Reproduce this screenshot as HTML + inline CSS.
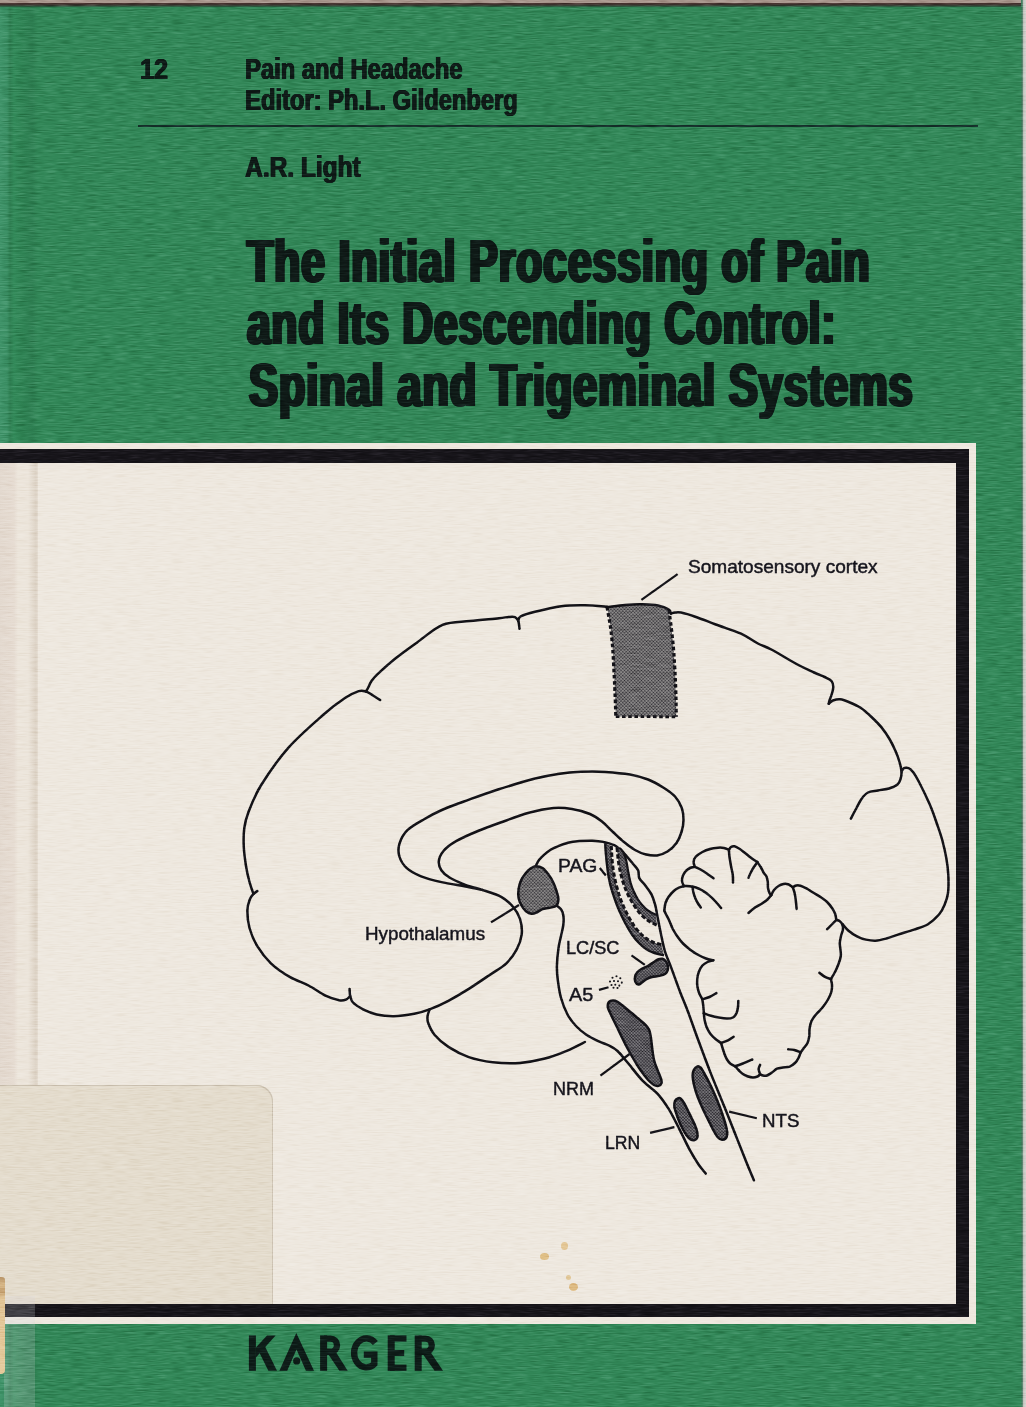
<!DOCTYPE html>
<html>
<head>
<meta charset="utf-8">
<title>The Initial Processing of Pain and Its Descending Control</title>
<style>
html,body{margin:0;padding:0;}
body{width:1026px;height:1407px;overflow:hidden;position:relative;background:#328758;font-family:"Liberation Sans",sans-serif;color:#0f1a17;}
.abs{position:absolute;}
#cover{left:0;top:0;width:1026px;height:1407px;background:#328758;overflow:hidden;}
#topstrip{left:0;top:0;width:1026px;height:3px;background:#a9968d;}
#topshadow{left:0;top:3px;width:1026px;height:4px;background:linear-gradient(#4d3230 0,#3b3530 50%,#2b6a48 100%);}
#rightedge{left:1021px;top:0;width:5px;height:1407px;background:linear-gradient(90deg,#2f7552 0,#5d8871 1.5px,#c9c6c2 2.6px,#d6d3cf 5px);}
#spineg{left:0;top:5px;width:40px;height:1402px;background:linear-gradient(90deg,#40946a 0,#3b8f64 7px,#2f8053 10px,#338a5a 14px,#2f8354 22px,#2e7f52 32px,#328758 38px);}
#panel{left:-4px;top:443px;width:980px;height:881px;background:#eee8df;}
#pborder{left:-20px;top:449px;width:963px;height:841px;border:13px solid #17151a;border-top-width:14px;box-sizing:content-box;background:transparent;}
#spinep{left:0;top:463px;width:38px;height:842px;background:linear-gradient(90deg,#e3d9cf 0,#e6dcd2 14px,#ece5db 18px,#ece5db 28px,#ddd3c6 36px,#eee8df 40px);}
#sticker{left:-10px;top:1085px;width:283px;height:220px;background:#e4dccd;border-radius:0 16px 0 0;box-shadow:inset -1px 1px 0 rgba(150,138,115,0.28);}
.hd{font-weight:bold;white-space:nowrap;transform-origin:0 0;line-height:1;text-shadow:0.5px 0 0 #0f1a17,-0.5px 0 0 #0f1a17,1px 0 0 #0f1a17;}
#n12{left:140px;top:54px;font-size:30px;transform:scaleX(0.83);}
#h1{left:245px;top:54px;font-size:30px;transform:scaleX(0.79);}
#h2{left:245px;top:85px;font-size:30px;transform:scaleX(0.79);}
#rule{left:138px;top:125px;width:840px;height:2px;background:#15302a;}
#auth{left:245px;top:152px;font-size:30px;transform:scaleX(0.815);}
.tt{font-size:62px;letter-spacing:1.2px;text-shadow:1px 0 0 #0f1a17,-1px 0 0 #0f1a17,2px 0 0 #0f1a17,-2px 0 0 #0f1a17,2.4px 0 0 #0f1a17,-2.4px 0 0 #0f1a17;}
#t1{left:247px;top:230px;transform:scaleX(0.692);}
#t2{left:247px;top:292px;transform:scaleX(0.686);}
#t3{left:248.5px;top:354px;transform:scaleX(0.701);}
.lb{font-size:18.5px;white-space:nowrap;line-height:1;color:#15141c;transform-origin:0 0;-webkit-text-stroke:0.45px #15141c;}
</style>
</head>
<body>
<div id="cover" class="abs">
<div id="spineg" class="abs"></div>
<div id="topstrip" class="abs"></div>
<div id="topshadow" class="abs"></div>
<div id="rightedge" class="abs"></div>

<div id="n12" class="abs hd">12</div>
<div id="h1" class="abs hd">Pain and Headache</div>
<div id="h2" class="abs hd">Editor: Ph.L. Gildenberg</div>
<div id="rule" class="abs"></div>
<div id="auth" class="abs hd">A.R. Light</div>
<div id="t1" class="abs hd tt">The Initial Processing of Pain</div>
<div id="t2" class="abs hd tt">and Its Descending Control:</div>
<div id="t3" class="abs hd tt">Spinal and Trigeminal Systems</div>

<div id="panel" class="abs"></div>
<div id="spinep" class="abs"></div>
<div id="sticker" class="abs"></div>
<div id="pborder" class="abs"></div>

<!--SVG-->
<svg id="art" class="abs" style="left:0;top:0" width="1026" height="1407" viewBox="0 0 1026 1407">
<defs><pattern id="ht" width="2.4" height="2.4" patternUnits="userSpaceOnUse" patternTransform="rotate(45)"><rect width="2.4" height="2.4" fill="#949290"/><circle cx="1.2" cy="1.2" r="0.9" fill="#2b2930"/></pattern><pattern id="htd" width="2.2" height="2.2" patternUnits="userSpaceOnUse" patternTransform="rotate(45)"><rect width="2.2" height="2.2" fill="#908e90"/><circle cx="1.1" cy="1.1" r="0.88" fill="#24222a"/></pattern></defs>
<g fill="none" stroke="#131217" stroke-width="2.5" stroke-linecap="round" stroke-linejoin="round">
<path d="M607.0 607.0C610.0 606.7 619.2 605.5 625.0 605.0C630.8 604.5 636.5 604.2 642.0 604.3C647.5 604.4 653.5 604.5 658.0 605.5C662.5 606.5 667.2 609.2 669.0 610.0L669.0 610.0C669.2 611.3 669.5 614.5 670.0 618.0C670.5 621.5 671.1 625.7 671.7 631.0C672.3 636.3 673.0 642.5 673.6 650.0C674.2 657.5 674.8 668.0 675.2 676.0C675.6 684.0 675.8 691.2 676.0 698.0C676.2 704.8 676.2 713.7 676.3 716.8L615.8 716.6L615.8 716.6C615.7 713.5 615.5 704.8 615.2 698.0C614.9 691.2 614.6 684.0 614.2 676.0C613.8 668.0 613.3 657.5 612.8 650.0C612.3 642.5 611.6 636.3 611.0 631.0C610.4 625.7 609.7 622.0 609.0 618.0C608.3 614.0 607.3 608.8 607.0 607.0Z" fill="url(#ht)" stroke="none"/>
<path d="M607.0 607.0C607.3 608.8 608.3 614.0 609.0 618.0C609.7 622.0 610.4 625.7 611.0 631.0C611.6 636.3 612.3 642.5 612.8 650.0C613.3 657.5 613.8 668.0 614.2 676.0C614.6 684.0 614.9 691.2 615.2 698.0C615.5 704.8 615.7 713.5 615.8 716.6" stroke-width="3.2" stroke-dasharray="3.6 2.6" stroke-linecap="butt"/>
<path d="M669.0 610.0C669.2 611.3 669.5 614.5 670.0 618.0C670.5 621.5 671.1 625.7 671.7 631.0C672.3 636.3 673.0 642.5 673.6 650.0C674.2 657.5 674.8 668.0 675.2 676.0C675.6 684.0 675.8 691.2 676.0 698.0C676.2 704.8 676.2 713.7 676.3 716.8" stroke-width="3.2" stroke-dasharray="3.6 2.6" stroke-linecap="butt"/>
<path d="M615.8 716.6L676.3 716.8" stroke-width="2.8" stroke-dasharray="3.6 2.6" stroke-linecap="butt"/>
<path d="M482.5 889.9C482.5 890.2 472.2 887.8 465.4 886.5C458.6 885.2 448.9 883.8 441.5 882.1C434.1 880.4 426.9 878.7 421.1 876.3C415.3 873.9 410.1 871.1 406.5 867.8C402.9 864.5 400.6 860.5 399.4 856.5C398.2 852.5 398.1 848.3 399.4 843.9C400.7 839.5 403.2 834.4 407.4 830.2C411.6 826.1 418.6 822.5 424.5 819.0C430.4 815.5 436.4 812.4 443.0 809.5C449.6 806.6 454.7 804.8 463.9 801.5C473.1 798.2 486.3 793.3 498.0 789.5C509.7 785.7 524.1 781.4 534.1 778.8C544.1 776.2 550.2 775.2 558.0 774.0C565.8 772.8 573.1 772.1 580.9 771.8C588.7 771.4 596.8 771.4 605.0 771.9C613.2 772.4 622.8 773.2 630.0 774.5C637.2 775.8 642.5 777.3 648.0 779.5C653.5 781.7 658.7 784.7 663.2 787.5C667.7 790.3 671.9 793.1 675.0 796.5C678.1 799.9 680.4 804.1 681.8 808.0C683.2 811.9 683.5 816.0 683.5 820.0C683.5 824.0 682.7 828.2 681.5 832.0C680.3 835.8 678.8 839.8 676.5 843.0C674.2 846.2 670.8 849.4 667.5 851.5C664.2 853.6 660.6 854.9 657.0 855.4C653.4 855.9 649.7 855.4 646.0 854.5C642.3 853.6 638.7 852.1 635.0 850.0C631.3 847.9 627.7 845.0 624.0 842.0C620.3 839.0 616.7 835.4 613.0 832.0C609.3 828.6 605.8 824.5 602.0 821.5C598.2 818.5 595.0 816.1 590.0 814.0C585.0 811.9 578.1 810.0 572.0 809.0C565.9 808.0 560.9 807.3 553.6 808.0C546.3 808.7 536.5 810.7 528.0 813.0C519.5 815.3 511.2 818.7 502.9 821.7C494.6 824.7 485.8 827.8 478.0 831.0C470.2 834.2 461.9 837.9 456.1 841.2C450.4 844.5 446.4 847.6 443.5 851.0C440.6 854.4 439.1 858.2 438.8 861.5C438.5 864.8 439.7 867.8 441.5 870.5C443.3 873.2 445.5 875.1 449.5 877.5C453.5 879.9 459.9 882.7 465.4 884.8C470.9 886.9 482.5 889.6 482.5 889.9Z"/>
<path d="M482.5 889.9C485.6 891.0 496.1 893.9 501.2 896.8C506.3 899.6 510.1 903.3 513.2 907.0C516.3 910.7 518.6 914.4 520.0 918.9C521.4 923.4 522.3 929.2 521.7 934.3C521.1 939.4 519.2 944.8 516.6 949.6C514.0 954.4 510.9 959.0 506.4 963.3C501.8 967.6 495.6 970.9 489.3 975.2C483.0 979.5 475.6 984.6 468.8 988.9C462.0 993.2 454.9 997.4 448.4 1000.8C441.9 1004.2 435.3 1007.2 429.6 1009.4C423.9 1011.6 420.2 1012.7 414.2 1013.8C408.2 1014.9 400.1 1016.1 393.8 1016.2C387.6 1016.3 381.8 1015.6 376.7 1014.5C371.6 1013.4 367.1 1011.4 363.1 1009.4C359.2 1007.4 355.1 1004.7 353.0 1002.5C350.9 1000.3 350.8 998.2 350.2 996.0C349.6 993.8 349.7 990.2 349.6 989.0"/>
<path d="M350.2 996.0C349.5 996.6 347.8 998.9 346.0 999.6C344.2 1000.3 342.6 1000.9 339.2 1000.3C335.8 999.6 330.6 998.2 325.5 995.7C320.4 993.2 314.5 988.6 308.5 985.5C302.5 982.4 296.0 980.6 289.7 976.9C283.4 973.2 276.3 968.4 270.9 963.3C265.5 958.2 260.9 952.1 257.3 946.2C253.7 940.3 251.2 934.0 249.5 928.0C247.8 922.0 247.3 914.8 247.4 910.0C247.5 905.2 249.0 901.7 250.0 899.0C251.0 896.3 252.3 895.3 253.5 894.0C254.7 892.7 256.7 891.5 257.3 891.0"/>
<path d="M253.5 894.0C252.8 892.0 250.8 886.7 249.5 882.0C248.2 877.3 246.9 871.8 246.0 866.0C245.1 860.2 244.1 853.6 243.8 847.3C243.5 841.0 243.5 833.9 244.3 828.0C245.1 822.1 245.7 819.2 248.5 812.0C251.3 804.8 254.5 795.7 261.2 785.0C267.9 774.3 278.1 759.4 288.5 747.6C298.9 735.9 314.2 722.8 323.6 714.5C333.0 706.2 339.1 701.9 345.0 698.0C350.9 694.1 355.2 692.2 358.7 691.1C362.2 690.0 363.6 690.8 366.0 691.5C368.4 692.2 370.6 694.1 373.0 695.5C375.4 696.9 378.9 699.2 380.1 700.0"/>
<path d="M366.0 691.5C366.4 690.8 367.6 688.8 368.5 687.0C369.4 685.2 369.9 683.2 371.5 681.0C373.1 678.8 374.0 677.4 378.1 673.6C382.2 669.8 389.5 663.2 396.0 658.0C402.5 652.8 409.4 647.9 417.1 642.4C424.9 636.9 433.7 628.4 442.5 624.8C451.3 621.2 460.6 622.1 470.0 621.0C479.4 619.9 492.5 618.9 499.0 618.2C505.5 617.5 506.1 617.2 508.8 617.0C511.5 616.8 513.4 616.5 515.0 617.2C516.6 617.9 517.5 619.1 518.3 621.0C519.0 622.9 519.3 627.4 519.5 628.7"/>
<path d="M518.3 621.0C518.7 620.2 517.9 618.0 520.5 616.5C523.1 615.0 527.2 613.7 534.0 612.0C540.8 610.3 552.9 607.3 561.4 606.2C569.9 605.1 577.4 605.2 585.0 605.3C592.6 605.4 603.3 606.5 607.0 606.8"/>
<path d="M607.0 607.0C610.0 606.7 619.2 605.5 625.0 605.0C630.8 604.5 636.5 604.2 642.0 604.3C647.5 604.4 653.5 604.6 658.0 605.5C662.5 606.4 666.6 608.1 668.8 609.5C671.0 610.9 670.6 612.9 671.0 613.6"/>
<path d="M671.0 613.6C671.7 613.4 673.3 612.8 675.0 612.6C676.7 612.4 677.5 611.9 681.0 612.6C684.5 613.3 690.2 615.0 696.0 617.0C701.8 619.0 708.3 621.7 715.8 624.5C723.3 627.3 734.0 630.5 741.0 633.7C748.0 636.9 752.9 640.9 757.9 643.5C762.9 646.1 764.9 646.1 771.3 649.5C777.7 652.9 789.4 660.2 796.5 664.0C803.6 667.8 809.3 670.3 814.0 672.5C818.7 674.7 821.7 675.6 824.6 677.0C827.5 678.4 830.0 679.3 831.5 681.0C833.0 682.7 833.2 684.8 833.3 687.0C833.3 689.2 832.5 691.7 831.8 694.0C831.1 696.3 829.8 699.4 829.3 701.0C828.8 702.6 828.9 703.3 828.8 703.8"/>
<path d="M828.8 703.8C829.5 703.2 831.1 701.2 833.0 700.5C834.9 699.8 837.2 699.0 840.0 699.3C842.8 699.6 846.5 701.0 850.0 702.5C853.5 704.0 857.3 705.5 861.0 708.0C864.7 710.5 868.6 714.3 872.0 717.5C875.4 720.7 878.6 723.8 881.5 727.4C884.4 731.0 887.2 735.1 889.5 739.0C891.8 742.9 893.8 747.2 895.5 751.0C897.2 754.8 898.5 758.6 899.5 762.0C900.5 765.4 901.3 768.7 901.5 771.5C901.7 774.3 901.2 776.8 900.5 779.0C899.8 781.2 899.4 782.9 897.5 784.5C895.6 786.1 892.2 787.5 889.0 788.5C885.8 789.5 881.5 789.8 878.0 790.5C874.5 791.2 870.8 791.1 868.0 792.5C865.2 793.9 863.4 796.4 861.5 799.0C859.6 801.6 858.3 804.7 856.5 808.0C854.7 811.3 851.8 816.8 850.9 818.6"/>
<path d="M901.5 771.5C901.9 771.0 902.8 768.8 904.0 768.2C905.2 767.7 907.0 767.6 908.5 768.2C910.0 768.8 911.2 769.7 913.0 772.0C914.8 774.3 916.2 776.6 919.0 782.0C921.8 787.4 926.8 797.6 929.8 804.6C932.8 811.6 934.9 817.9 937.0 824.0C939.1 830.1 941.0 835.3 942.5 841.0C944.0 846.7 945.3 852.3 946.3 858.0C947.3 863.7 948.0 869.2 948.3 875.0C948.6 880.8 948.6 888.0 948.0 893.0C947.4 898.0 946.0 901.4 944.5 905.0C943.0 908.6 941.8 911.3 939.0 914.5C936.2 917.7 932.2 921.7 928.0 924.2C923.8 926.7 919.0 927.9 914.0 929.6C909.0 931.3 902.6 933.1 898.0 934.6C893.4 936.1 890.1 937.5 886.4 938.5C882.6 939.5 878.9 940.5 875.5 940.7C872.1 940.9 869.1 940.3 866.0 939.6C862.9 938.9 859.9 937.8 857.0 936.3C854.1 934.8 850.9 932.7 848.5 930.7C846.1 928.7 843.6 925.3 842.6 924.2"/>
<path d="M535.6 866.2C536.2 865.2 537.5 861.9 539.0 860.0C540.5 858.1 542.3 856.4 544.3 854.6C546.3 852.9 548.6 851.0 551.0 849.5C553.4 848.0 556.1 846.9 558.9 845.8C561.7 844.7 564.6 843.6 568.0 842.8C571.4 842.0 575.4 841.5 579.4 841.1C583.4 840.8 588.0 840.6 592.0 840.7C596.0 840.8 599.8 841.1 603.5 841.9C607.2 842.6 611.5 844.0 614.3 845.2C617.0 846.5 618.2 847.9 620.0 849.4C621.8 850.9 622.6 851.6 624.8 854.1C627.0 856.6 631.2 861.5 633.4 864.2C635.6 866.9 637.2 868.2 638.2 870.5C639.2 872.8 638.1 875.6 639.3 878.1C640.5 880.6 643.5 883.0 645.5 885.8C647.5 888.5 650.0 891.4 651.6 894.6C653.2 897.8 654.2 901.2 655.2 904.8C656.2 908.4 656.4 911.1 657.4 916.2C658.4 921.3 659.9 929.3 661.2 935.2C662.5 941.1 663.3 946.1 665.0 951.6C666.7 957.1 668.9 961.3 671.4 968.1C673.9 974.9 677.4 984.9 680.2 992.2C683.0 999.5 685.1 1004.0 688.1 1012.0C691.1 1020.0 694.7 1030.6 698.4 1040.5C702.1 1050.4 705.7 1060.4 710.1 1071.6C714.5 1082.8 720.3 1096.6 724.7 1107.5C729.1 1118.4 732.8 1127.8 736.4 1137.0C740.0 1146.2 743.7 1155.6 746.6 1162.8C749.5 1170.0 752.7 1177.4 753.9 1180.3"/>
<path d="M556.5 905.5C557.3 906.2 560.1 907.8 561.2 909.5C562.4 911.2 563.0 913.4 563.4 916.0C563.8 918.6 563.7 921.7 563.3 925.0C562.9 928.3 561.8 932.2 561.0 936.0C560.2 939.8 559.2 943.0 558.5 948.0C557.8 953.0 557.0 960.9 556.9 966.2C556.8 971.5 557.1 974.8 557.8 980.0C558.5 985.2 559.3 991.8 560.9 997.5C562.5 1003.2 565.0 1009.8 567.5 1014.5C570.0 1019.2 572.9 1022.7 576.0 1026.0C579.1 1029.3 582.2 1031.9 586.0 1034.5C589.8 1037.1 595.1 1039.6 598.9 1041.4C602.7 1043.2 605.9 1043.9 609.0 1045.5C612.1 1047.1 614.3 1048.0 617.5 1051.0C620.7 1054.0 624.0 1058.3 628.2 1063.3C632.4 1068.3 637.9 1075.9 642.8 1080.9C647.7 1086.0 653.1 1089.0 657.4 1093.6C661.7 1098.2 664.8 1102.8 668.5 1108.7C672.2 1114.6 675.9 1122.3 679.4 1129.1C682.9 1135.9 686.4 1143.8 689.6 1149.6C692.8 1155.4 695.7 1160.2 698.4 1164.2C701.1 1168.2 704.5 1172.0 705.7 1173.6"/>
<path d="M429.6 1009.4C429.3 1010.5 427.8 1013.7 427.6 1016.0C427.4 1018.3 427.0 1019.8 428.2 1023.0C429.4 1026.2 431.3 1031.0 434.7 1035.0C438.1 1039.0 442.7 1043.2 448.4 1046.9C454.1 1050.6 461.4 1054.5 468.8 1057.1C476.2 1059.6 484.2 1061.2 492.7 1062.2C501.2 1063.2 511.5 1063.5 520.0 1062.9C528.5 1062.3 536.1 1060.8 543.9 1058.8C551.7 1056.8 560.0 1053.6 566.8 1050.8C573.6 1048.0 581.9 1043.5 584.9 1042.0"/>
<path d="M664.3 910.5C664.5 909.2 664.8 905.2 665.5 903.0C666.2 900.8 667.0 899.1 668.5 897.0C670.0 894.9 672.5 892.1 674.3 890.5C676.0 888.9 677.4 888.3 679.0 887.6C680.6 886.9 683.1 886.4 683.9 886.1"/>
<path d="M683.9 886.1C683.6 885.2 682.1 882.8 682.0 881.0C681.9 879.2 682.3 877.2 683.0 875.5C683.7 873.8 684.8 872.0 686.0 870.8C687.2 869.5 688.5 868.7 690.0 868.0C691.5 867.3 694.0 867.0 694.8 866.8"/>
<path d="M694.8 866.8C694.6 866.0 693.5 863.6 693.6 862.0C693.7 860.4 694.0 858.7 695.5 857.0C697.0 855.3 700.0 853.3 702.4 852.0C704.8 850.7 707.4 849.7 710.0 849.0C712.6 848.3 715.7 847.9 718.0 847.7C720.3 847.5 722.2 847.6 724.0 848.0C725.8 848.4 728.1 849.5 728.9 849.8"/>
<path d="M728.9 849.8C729.2 849.3 730.1 847.6 731.0 847.0C731.9 846.4 733.0 846.0 734.5 846.3C736.0 846.6 737.9 847.8 739.8 849.0C741.7 850.2 743.9 852.2 746.0 853.8C748.1 855.4 750.4 857.4 752.3 858.8C754.2 860.2 756.5 861.5 757.3 862.1"/>
<path d="M757.3 862.1C757.9 863.0 760.0 865.8 761.0 867.5C762.0 869.2 762.6 871.0 763.5 872.5C764.4 874.0 765.8 874.9 766.5 876.5C767.2 878.1 767.5 880.1 767.8 882.0C768.0 883.9 767.7 886.2 768.0 888.0C768.3 889.8 769.0 891.8 769.5 893.0C770.0 894.2 770.9 894.8 771.2 895.1"/>
<path d="M771.2 895.1C771.7 894.2 772.8 891.5 774.0 890.0C775.2 888.5 776.9 887.0 778.5 886.0C780.1 885.0 781.9 884.3 783.5 884.0C785.1 883.7 786.5 883.7 788.0 884.2C789.5 884.8 792.0 886.8 792.8 887.3"/>
<path d="M792.8 887.3C793.3 887.0 794.7 885.8 796.0 885.5C797.3 885.2 798.8 885.2 800.5 885.7C802.2 886.2 803.9 887.1 806.0 888.2C808.1 889.3 810.6 891.0 813.0 892.5C815.4 894.0 818.1 895.4 820.5 897.0C822.9 898.6 825.2 900.2 827.1 902.0C829.0 903.8 830.6 906.0 832.0 908.0C833.4 910.0 834.5 912.0 835.2 914.0C835.9 916.0 836.1 918.8 836.3 919.8"/>
<path d="M836.3 919.8C836.8 920.0 838.5 920.3 839.5 921.0C840.5 921.7 841.5 922.6 842.1 924.0C842.7 925.4 843.2 927.2 843.0 929.2C842.8 931.2 841.5 933.7 841.0 936.0C840.5 938.3 839.9 940.7 839.8 943.0C839.7 945.3 840.3 947.8 840.5 950.0C840.7 952.2 841.1 953.7 840.8 956.0C840.5 958.3 839.5 961.3 838.5 964.0C837.5 966.7 836.3 969.5 835.0 972.0C833.7 974.5 831.6 977.9 830.9 979.1"/>
<path d="M830.9 979.1C831.1 980.1 831.9 982.9 832.0 985.0C832.1 987.1 832.0 989.6 831.3 992.0C830.6 994.4 829.5 996.9 828.0 999.5C826.5 1002.1 824.5 1005.0 822.5 1007.5C820.5 1010.0 817.8 1012.2 816.0 1014.5C814.2 1016.8 812.6 1018.7 811.5 1021.0C810.4 1023.3 810.0 1026.0 809.6 1028.5C809.2 1031.0 809.6 1033.6 809.3 1036.0C808.9 1038.4 808.5 1040.9 807.5 1043.0C806.5 1045.1 804.6 1046.9 803.5 1048.5C802.4 1050.1 801.1 1051.8 800.6 1052.4"/>
<path d="M800.6 1052.4C800.2 1053.3 799.4 1056.2 798.5 1058.0C797.6 1059.8 796.5 1061.6 795.0 1063.0C793.5 1064.4 791.7 1065.8 789.7 1066.6C787.7 1067.3 785.1 1067.2 783.0 1067.5C780.9 1067.8 778.8 1067.9 777.0 1068.7C775.2 1069.5 773.7 1071.4 772.0 1072.5C770.3 1073.6 768.5 1075.0 767.0 1075.5C765.5 1076.0 764.1 1075.8 763.0 1075.6C761.9 1075.4 760.6 1074.4 760.1 1074.2"/>
<path d="M760.1 1074.2C759.7 1074.6 758.7 1076.0 757.5 1076.5C756.3 1077.0 754.7 1077.5 753.0 1077.5C751.3 1077.5 749.2 1076.9 747.5 1076.3C745.8 1075.7 744.0 1074.8 742.5 1073.7C741.0 1072.7 739.7 1071.2 738.5 1070.0C737.3 1068.8 735.7 1066.8 735.1 1066.2"/>
<path d="M735.1 1066.2C734.3 1065.8 731.9 1064.9 730.5 1063.8C729.1 1062.7 728.0 1061.1 727.0 1059.5C726.0 1057.9 725.2 1055.8 724.5 1054.0C723.8 1052.2 723.3 1050.3 722.7 1048.5C722.1 1046.7 721.4 1043.9 721.1 1043.0"/>
<path d="M721.1 1043.0C720.2 1042.3 717.3 1040.5 715.5 1039.0C713.7 1037.5 712.0 1035.9 710.5 1034.0C709.0 1032.1 707.8 1029.8 706.8 1027.5C705.8 1025.2 705.1 1022.4 704.6 1020.0C704.1 1017.6 704.0 1014.5 703.9 1013.4"/>
<path d="M703.9 1013.4C703.8 1012.2 703.5 1008.4 703.3 1006.0C703.0 1003.6 702.5 1000.4 702.4 999.3"/>
<path d="M702.4 999.3C701.9 998.3 700.1 995.5 699.3 993.5C698.5 991.5 697.9 989.3 697.5 987.0C697.1 984.7 697.0 982.0 697.2 979.5C697.4 977.0 697.9 974.3 698.8 972.0C699.7 969.7 700.9 967.2 702.4 965.5C703.9 963.8 705.7 962.9 707.5 962.0C709.3 961.1 712.3 960.5 713.3 960.2"/>
<path d="M713.3 960.2C712.1 959.9 708.6 959.5 706.0 958.5C703.4 957.5 700.2 956.0 697.5 954.5C694.8 953.0 692.3 951.2 689.9 949.4C687.5 947.6 685.1 945.6 683.0 943.5C680.9 941.4 679.1 938.9 677.4 936.5C675.7 934.1 674.2 931.7 672.8 929.0C671.4 926.3 670.4 923.1 669.2 920.5C668.0 917.9 666.4 915.2 665.6 913.5C664.8 911.8 664.5 911.0 664.3 910.5"/>
<path d="M683.9 886.1C684.9 886.1 688.0 886.0 690.0 886.2C692.0 886.4 693.8 886.7 696.0 887.5C698.2 888.3 700.8 889.4 703.0 890.8C705.2 892.1 707.4 893.8 709.5 895.6C711.6 897.4 713.6 899.4 715.5 901.5C717.4 903.6 720.2 906.9 721.1 908.0"/>
<path d="M692.5 886.7C692.6 887.6 692.8 890.0 693.3 892.0C693.8 894.0 694.6 896.6 695.4 898.5C696.2 900.4 697.1 902.0 698.0 903.5C698.9 905.0 700.3 906.8 700.8 907.5"/>
<path d="M694.8 866.8C695.8 867.2 698.5 868.4 700.5 869.5C702.5 870.6 704.3 871.8 706.5 873.3C708.7 874.8 712.3 877.5 713.5 878.3"/>
<path d="M728.9 849.8C729.0 851.0 729.1 854.3 729.5 857.0C729.9 859.7 730.5 863.0 731.0 866.0C731.5 869.0 732.5 872.3 732.8 875.0C733.1 877.7 733.0 881.2 733.0 882.4"/>
<path d="M757.3 862.1C756.7 863.0 754.7 865.8 753.6 867.5C752.5 869.2 751.6 870.8 750.8 872.5C749.9 874.2 748.9 876.8 748.5 877.7"/>
<path d="M771.2 895.1C770.6 895.8 769.0 898.1 767.5 899.5C766.0 900.9 764.0 902.2 762.0 903.5C760.0 904.8 757.6 905.7 755.4 907.3C753.1 908.9 749.6 912.0 748.5 913.0"/>
<path d="M792.8 887.3C793.1 888.2 794.1 890.8 794.6 893.0C795.1 895.2 795.5 897.9 795.8 900.5C796.1 903.1 796.5 907.5 796.6 908.9"/>
<path d="M836.3 919.8C835.5 920.6 833.3 922.9 831.8 924.5C830.3 926.1 827.9 928.4 827.1 929.2"/>
<path d="M830.9 979.1C829.8 978.7 826.4 977.7 824.5 976.6C822.6 975.5 820.2 973.4 819.4 972.8"/>
<path d="M702.4 999.3C703.6 998.9 707.2 998.0 709.5 997.0C711.8 996.0 715.2 993.8 716.4 993.1"/>
<path d="M703.9 1013.4C705.1 1013.8 708.5 1015.1 711.0 1015.8C713.5 1016.5 716.3 1017.1 719.0 1017.6C721.7 1018.1 724.7 1018.6 727.0 1018.6C729.3 1018.6 731.4 1018.4 733.0 1017.5C734.6 1016.6 735.8 1014.8 736.6 1013.0C737.4 1011.2 737.7 1009.0 738.0 1007.0C738.3 1005.0 738.2 1001.9 738.3 1000.9"/>
<path d="M721.1 1043.0C722.2 1042.5 725.9 1041.3 728.0 1040.3C730.1 1039.3 732.7 1037.4 733.6 1036.8"/>
<path d="M735.1 1066.2C736.4 1065.8 740.0 1064.6 742.9 1063.5C745.8 1062.4 750.7 1060.2 752.3 1059.5"/>
<path d="M760.1 1074.2C759.9 1073.3 758.6 1070.5 758.6 1069.0C758.6 1067.5 759.9 1065.6 760.1 1064.9"/>
<path d="M800.6 1052.4C799.6 1052.0 796.5 1050.5 794.4 1050.0C792.3 1049.5 789.2 1049.4 788.2 1049.3"/>
</g>
<g fill="none" stroke="#131217" stroke-width="2.2" stroke-linecap="butt">
<path d="M677.6 574.1L641.4 599.8"/>
<path d="M491.0 922.4L519.0 905.0"/>
<path d="M599.8 868.0L605.8 875.5"/>
<path d="M631.5 955.4L644.8 964.9"/>
<path d="M599.0 989.9L608.5 987.2"/>
<path d="M600.4 1075.6L629.6 1054.0"/>
<path d="M650.1 1132.9L674.4 1127.1"/>
<path d="M729.1 1111.6L756.8 1118.3"/>
</g>
<g stroke="#131217" stroke-width="2.5" stroke-linejoin="round">
<path d="M535.6 866.2C537.6 866.1 540.4 866.6 542.5 868.0C544.6 869.4 546.7 872.1 548.5 874.5C550.3 876.9 552.0 879.8 553.3 882.5C554.6 885.2 555.6 888.2 556.5 891.0C557.4 893.8 558.4 896.6 558.4 899.0C558.4 901.4 558.0 904.0 556.5 905.5C555.0 907.0 551.8 907.2 549.5 907.8C547.2 908.4 544.7 908.4 542.5 909.2C540.3 910.0 538.3 911.7 536.5 912.5C534.7 913.3 533.2 914.0 531.5 913.8C529.8 913.6 527.7 912.6 526.0 911.2C524.3 909.8 522.7 907.7 521.5 905.5C520.3 903.3 519.1 900.8 518.6 898.0C518.1 895.2 518.2 891.9 518.6 889.0C519.0 886.1 519.9 883.1 521.0 880.5C522.1 877.9 523.9 875.5 525.5 873.5C527.1 871.5 528.8 869.7 530.5 868.5C532.2 867.3 533.6 866.3 535.6 866.2Z" fill="url(#ht)"/>
<path d="M635.2 981.5C634.7 980.1 634.8 977.6 635.2 976.0C635.6 974.4 636.5 973.2 637.5 972.0C638.5 970.8 639.6 970.1 641.5 969.0C643.4 967.9 646.5 966.8 648.6 965.6C650.7 964.4 652.4 963.1 654.0 962.0C655.6 960.9 657.1 959.7 658.5 959.2C659.9 958.7 661.3 958.5 662.5 958.8C663.7 959.1 664.9 960.1 665.8 961.2C666.7 962.3 667.5 964.0 667.8 965.5C668.1 967.0 668.2 968.6 667.8 970.0C667.4 971.4 666.7 972.8 665.3 973.8C663.9 974.8 661.7 975.4 659.5 975.9C657.3 976.4 654.2 976.5 652.0 977.0C649.8 977.5 648.2 978.3 646.5 979.2C644.8 980.1 643.3 981.6 642.0 982.5C640.7 983.4 639.6 984.7 638.5 984.5C637.4 984.3 635.8 982.9 635.2 981.5Z" fill="url(#htd)"/>
<path d="M609.0 1001.9C609.9 1000.8 611.6 1000.5 613.0 1000.5C614.4 1000.5 615.7 1000.8 617.5 1001.8C619.3 1002.8 621.5 1004.7 623.8 1006.5C626.0 1008.3 628.5 1010.5 631.0 1012.5C633.5 1014.5 636.1 1016.8 638.5 1018.8C640.9 1020.8 643.7 1022.9 645.5 1024.8C647.3 1026.7 648.3 1028.0 649.2 1030.0C650.1 1032.0 650.4 1034.5 650.8 1037.0C651.2 1039.5 651.5 1042.3 651.8 1045.0C652.1 1047.7 652.4 1050.3 652.8 1053.0C653.2 1055.7 653.5 1058.2 654.3 1061.0C655.0 1063.8 656.2 1066.8 657.3 1069.5C658.3 1072.2 659.9 1075.2 660.6 1077.5C661.3 1079.8 662.0 1081.6 661.6 1083.0C661.2 1084.4 659.8 1085.5 658.5 1085.8C657.2 1086.1 655.6 1085.9 654.0 1085.0C652.4 1084.1 650.5 1082.4 648.7 1080.5C646.9 1078.6 645.0 1076.1 643.0 1073.5C641.0 1070.9 638.9 1067.8 637.0 1064.8C635.1 1061.8 633.2 1058.5 631.5 1055.5C629.8 1052.5 628.1 1049.5 626.5 1046.5C624.9 1043.5 623.5 1040.5 622.0 1037.5C620.5 1034.5 619.1 1031.4 617.7 1028.5C616.3 1025.6 614.8 1022.6 613.5 1020.0C612.2 1017.4 611.2 1015.2 610.2 1013.0C609.2 1010.8 608.0 1008.9 607.8 1007.0C607.6 1005.1 608.1 1003.0 609.0 1001.9Z" fill="url(#htd)"/>
<path d="M697.5 1066.3C698.5 1065.9 699.3 1066.3 700.3 1067.3C701.3 1068.2 702.3 1070.0 703.5 1072.0C704.7 1074.0 706.1 1076.7 707.5 1079.4C708.9 1082.1 710.4 1085.0 711.8 1088.0C713.2 1091.0 714.6 1094.2 716.0 1097.5C717.4 1100.8 718.7 1104.0 720.0 1107.5C721.3 1111.0 722.7 1115.1 723.8 1118.5C724.9 1121.9 725.9 1125.3 726.5 1128.0C727.1 1130.7 727.4 1132.7 727.2 1134.5C727.0 1136.3 726.4 1137.7 725.5 1138.6C724.6 1139.5 723.2 1139.9 722.0 1139.7C720.8 1139.5 719.4 1139.0 718.0 1137.5C716.6 1136.0 715.0 1133.2 713.5 1130.5C712.0 1127.8 710.5 1124.6 709.0 1121.5C707.5 1118.4 705.8 1115.2 704.3 1112.0C702.8 1108.8 701.3 1105.7 700.0 1102.5C698.7 1099.3 697.3 1096.1 696.3 1093.0C695.3 1089.9 694.4 1086.9 693.8 1084.0C693.2 1081.1 692.6 1077.9 692.6 1075.5C692.6 1073.1 693.2 1071.0 694.0 1069.5C694.8 1068.0 696.5 1066.7 697.5 1066.3Z" fill="url(#htd)"/>
<path d="M677.9 1098.3C678.9 1097.9 679.7 1097.8 680.8 1098.7C681.9 1099.6 683.1 1101.5 684.3 1103.5C685.5 1105.5 686.8 1108.3 688.0 1110.8C689.2 1113.3 690.6 1116.0 691.8 1118.5C693.0 1121.0 694.4 1123.7 695.3 1126.0C696.2 1128.3 697.0 1130.6 697.3 1132.5C697.6 1134.4 697.8 1136.2 697.3 1137.5C696.8 1138.8 695.7 1139.7 694.6 1140.0C693.5 1140.3 691.9 1140.1 690.5 1139.3C689.1 1138.5 687.6 1136.8 686.3 1135.0C685.0 1133.2 683.7 1130.8 682.5 1128.5C681.3 1126.2 680.0 1123.5 679.0 1121.0C678.0 1118.5 677.1 1115.9 676.3 1113.5C675.5 1111.1 674.5 1108.6 674.3 1106.5C674.1 1104.4 674.4 1102.4 675.0 1101.0C675.6 1099.6 676.9 1098.7 677.9 1098.3Z" fill="url(#htd)"/>
<path d="M605.2 843.2C605.3 844.8 605.5 849.7 605.8 853.0C606.1 856.3 606.4 859.7 606.8 863.0C607.2 866.3 607.5 869.6 608.0 873.0C608.5 876.4 609.2 880.0 610.0 883.5C610.8 887.0 611.9 890.6 613.0 894.0C614.1 897.4 615.2 900.6 616.5 904.0C617.8 907.4 619.4 911.1 621.0 914.5C622.6 917.9 624.2 921.2 626.0 924.5C627.8 927.8 629.9 931.5 632.0 934.5C634.1 937.5 636.2 940.1 638.5 942.5C640.8 944.9 643.3 947.2 646.0 949.0C648.7 950.8 651.5 952.0 654.5 953.0C657.5 954.0 662.4 954.9 664.0 955.3L661.3 944.6C660.0 944.2 656.0 943.3 653.5 942.3C651.0 941.3 648.7 940.1 646.5 938.6C644.3 937.1 642.5 935.5 640.5 933.5C638.5 931.5 636.4 929.2 634.5 926.5C632.6 923.8 630.8 920.7 629.0 917.5C627.2 914.3 625.5 910.8 624.0 907.5C622.5 904.2 621.2 900.9 620.0 897.5C618.8 894.1 617.8 890.6 616.8 887.0C615.8 883.4 615.0 879.7 614.3 876.0C613.6 872.3 613.0 868.5 612.6 865.0C612.2 861.5 612.0 858.2 611.8 855.0C611.6 851.8 611.4 847.5 611.3 846.0Z" fill="url(#htd)" stroke="none"/>
<path d="M617.0 847.5C617.2 849.2 617.6 854.6 618.0 858.0C618.4 861.4 618.8 864.6 619.5 868.0C620.2 871.4 621.0 875.0 622.0 878.5C623.0 882.0 624.2 885.7 625.5 889.0C626.8 892.3 628.3 895.4 630.0 898.5C631.7 901.6 633.5 904.7 635.5 907.5C637.5 910.3 639.7 913.2 642.0 915.5C644.3 917.8 647.0 919.9 649.5 921.5C652.0 923.1 655.6 924.4 656.8 925.0L656.0 914.6C654.8 914.0 651.2 912.6 649.0 911.2C646.8 909.8 644.8 908.0 643.0 906.0C641.2 904.0 639.5 901.9 638.0 899.5C636.5 897.1 635.0 894.3 633.8 891.5C632.5 888.7 631.4 885.8 630.5 882.5C629.6 879.2 629.0 875.4 628.3 872.0C627.6 868.6 627.2 865.1 626.5 862.0C625.8 858.9 625.2 855.9 624.0 853.5C622.8 851.1 620.2 848.8 619.5 847.8Z" fill="url(#htd)" stroke="none"/>
<path d="M605.2 843.2C605.3 844.8 605.5 849.7 605.8 853.0C606.1 856.3 606.4 859.7 606.8 863.0C607.2 866.3 607.5 869.6 608.0 873.0C608.5 876.4 609.2 880.0 610.0 883.5C610.8 887.0 611.9 890.6 613.0 894.0C614.1 897.4 615.2 900.6 616.5 904.0C617.8 907.4 619.4 911.1 621.0 914.5C622.6 917.9 624.2 921.2 626.0 924.5C627.8 927.8 629.9 931.5 632.0 934.5C634.1 937.5 636.2 940.1 638.5 942.5C640.8 944.9 643.3 947.2 646.0 949.0C648.7 950.8 651.5 952.0 654.5 953.0C657.5 954.0 662.4 954.9 664.0 955.3" fill="none" stroke-width="2.4"/>
<path d="M661.3 944.6C660.0 944.2 656.0 943.3 653.5 942.3C651.0 941.3 648.7 940.1 646.5 938.6C644.3 937.1 642.5 935.5 640.5 933.5C638.5 931.5 636.4 929.2 634.5 926.5C632.6 923.8 630.8 920.7 629.0 917.5C627.2 914.3 625.5 910.8 624.0 907.5C622.5 904.2 621.2 900.9 620.0 897.5C618.8 894.1 617.8 890.6 616.8 887.0C615.8 883.4 615.0 879.7 614.3 876.0C613.6 872.3 613.0 868.5 612.6 865.0C612.2 861.5 612.0 858.2 611.8 855.0C611.6 851.8 611.4 847.5 611.3 846.0" fill="none" stroke-width="3" stroke-dasharray="4.4 2.3"/>
<path d="M617.0 847.5C617.2 849.2 617.6 854.6 618.0 858.0C618.4 861.4 618.8 864.6 619.5 868.0C620.2 871.4 621.0 875.0 622.0 878.5C623.0 882.0 624.2 885.7 625.5 889.0C626.8 892.3 628.3 895.4 630.0 898.5C631.7 901.6 633.5 904.7 635.5 907.5C637.5 910.3 639.7 913.2 642.0 915.5C644.3 917.8 647.0 919.9 649.5 921.5C652.0 923.1 655.6 924.4 656.8 925.0" fill="none" stroke-width="3" stroke-dasharray="4.4 2.3"/>
<path d="M656.0 914.6C654.8 914.0 651.2 912.6 649.0 911.2C646.8 909.8 644.8 908.0 643.0 906.0C641.2 904.0 639.5 901.9 638.0 899.5C636.5 897.1 635.0 894.3 633.8 891.5C632.5 888.7 631.4 885.8 630.5 882.5C629.6 879.2 629.0 875.4 628.3 872.0C627.6 868.6 627.2 865.1 626.5 862.0C625.8 858.9 625.2 855.9 624.0 853.5C622.8 851.1 620.2 848.8 619.5 847.8" fill="none" stroke-width="2.2"/>
</g>
<g fill="#131217"><circle cx="612.5" cy="977.8" r="1.05"/><circle cx="616.5" cy="976.3" r="1.05"/><circle cx="620.3" cy="978.3" r="1.05"/><circle cx="610.0" cy="981.5" r="1.05"/><circle cx="614.0" cy="981.0" r="1.05"/><circle cx="618.0" cy="981.3" r="1.05"/><circle cx="621.8" cy="982.6" r="1.05"/><circle cx="611.5" cy="985.0" r="1.05"/><circle cx="615.3" cy="984.8" r="1.05"/><circle cx="619.3" cy="985.6" r="1.05"/><circle cx="613.5" cy="987.8" r="1.05"/><circle cx="617.5" cy="988.0" r="1.05"/></g>
</svg>
<!--/SVG-->

<!--LABELS-->
<div class="abs lb" style="left:688px;top:557.5px;transform:scaleX(1.03);">Somatosensory cortex</div>
<div class="abs lb" style="left:365px;top:924.5px;transform:scaleX(1.015);">Hypothalamus</div>
<div class="abs lb" style="left:558px;top:857px;transform:scaleX(1.045);">PAG</div>
<div class="abs lb" style="left:565.5px;top:939px;transform:scaleX(0.98);">LC/SC</div>
<div class="abs lb" style="left:568.5px;top:985.5px;transform:scaleX(1.07);">A5</div>
<div class="abs lb" style="left:553px;top:1079.5px;transform:scaleX(0.973);">NRM</div>
<div class="abs lb" style="left:604.5px;top:1134px;transform:scaleX(0.95);">LRN</div>
<div class="abs lb" style="left:761.5px;top:1112px;transform:scaleX(1.01);">NTS</div>
<!--/LABELS-->

<!--KARGER-->
<svg class="abs" style="left:0;top:0" width="1026" height="1407" viewBox="0 0 1026 1407">
<g fill="#0e1c18" stroke="none">
<rect x="248.9" y="1335.4" width="7" height="35.4"/>
<path d="M255.9 1357.5V1347.5L267 1335.4H275.6Z"/>
<path d="M258.3 1350.4L264 1344.6L277 1370.8H268.4Z"/>
<path fill-rule="evenodd" d="M279.4 1370.8L296.3 1333L314 1370.8H305.9L296.5 1349.5L287.2 1370.8Z"/>
<circle cx="296.7" cy="1360.9" r="3.6"/>
<rect x="320.1" y="1335.4" width="7" height="35.4"/>
<path d="M327.6 1353.2L335.2 1351L347.7 1370.8H339.4Z"/>
<rect x="387.7" y="1335.4" width="7" height="35.4"/>
<rect x="390" y="1335.4" width="16.5" height="6.2"/>
<rect x="390" y="1350" width="14.2" height="6"/>
<rect x="390" y="1364.6" width="16.5" height="6.2"/>
<rect x="414.7" y="1335.4" width="7" height="35.4"/>
<path d="M422.2 1353.2L429.8 1351L443 1370.8H434.6Z"/>
</g>
<g fill="none" stroke="#0e1c18" stroke-width="6.4">
<path d="M324 1338.6H330.4A6.6 6.6 0 0 1 330.4 1351.8H325"/>
<path d="M418.6 1338.6H425.2A6.6 6.6 0 0 1 425.2 1351.8H419.6"/>
<path d="M375.4 1343A12.3 14.5 0 1 0 374.3 1364V1354.6H363.8"/>
</g>
</svg>
<!--/KARGER-->
<!--EXTRA-->
<div class="abs" style="left:4px;top:1296px;width:31px;height:111px;background:rgba(214,214,220,0.22);"></div>
<div class="abs" style="left:0;top:1277px;width:5px;height:97px;border-radius:0 3px 4px 0;background:linear-gradient(#b9966a 0,#d8b888 8px,#c4a070 14px,#e2c596 22px,#e6cb9e 100%);"></div>
<div class="abs" style="left:540px;top:1253px;width:9px;height:7px;border-radius:50%;background:#dcb777;opacity:.85"></div>
<div class="abs" style="left:561px;top:1242px;width:7px;height:8px;border-radius:50%;background:#e0bd82;opacity:.8"></div>
<div class="abs" style="left:569px;top:1283px;width:9px;height:8px;border-radius:50%;background:#d9b271;opacity:.85"></div>
<div class="abs" style="left:566px;top:1275px;width:5px;height:5px;border-radius:50%;background:#dfc08a;opacity:.8"></div>
<!--/EXTRA-->
<!--TEX-->
<svg class="abs" style="left:0;top:0;mix-blend-mode:soft-light;opacity:0.32;pointer-events:none" width="1026" height="1407"><filter id="cloth" x="0" y="0" width="100%" height="100%" color-interpolation-filters="sRGB"><feTurbulence type="fractalNoise" baseFrequency="0.07 0.95" numOctaves="2" seed="5"/><feColorMatrix type="matrix" values="0.9 0.9 0.9 0 -0.85  0.9 0.9 0.9 0 -0.85  0.9 0.9 0.9 0 -0.85  0 0 0 0 1"/></filter><rect width="1026" height="1407" filter="url(#cloth)"/></svg>
<!--/TEX-->
</div>
</body>
</html>
